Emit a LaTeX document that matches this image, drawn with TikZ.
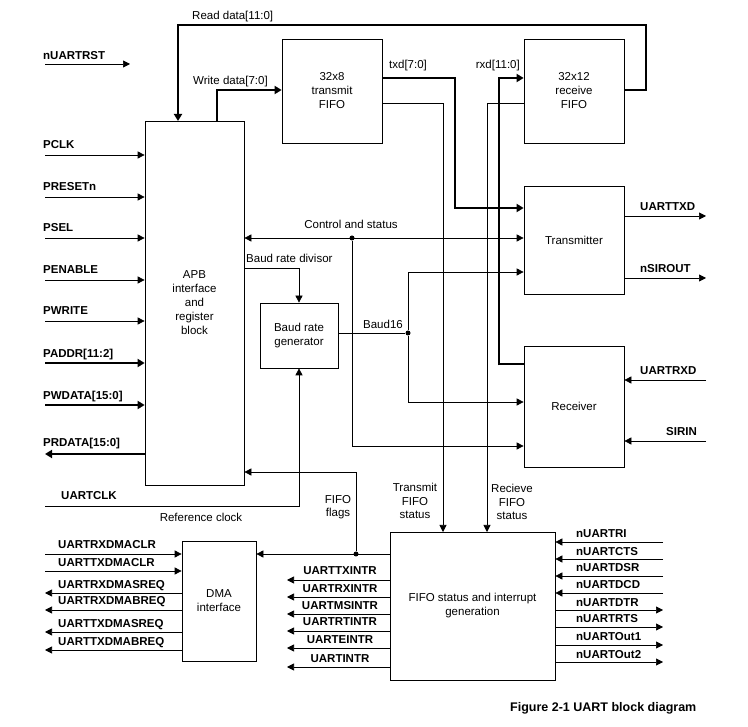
\documentclass[tikz,border=0pt]{standalone}
\usepackage{fontspec}
\setmainfont{Liberation Sans}
\usetikzlibrary{arrows.meta}
\begin{document}
\begin{tikzpicture}[x=1pt,y=-1pt,
  blk/.style={draw,line width=0.7pt,inner sep=0pt,align=center,font=\fontsize{11.5}{14}\selectfont},
  sig/.style={line width=0.7pt,-{Triangle[length=7pt,width=7pt]}},
  bus/.style={line width=2.8pt,-{Triangle[length=7pt,width=8pt]}},
  bsig/.style={line width=2.8pt},
  lbl/.style={font=\fontsize{11.5}{13.5}\selectfont,inner sep=1pt},
  pin/.style={font=\bfseries\fontsize{11.5}{13}\selectfont,inner sep=1pt},
  dot/.style={circle,fill,inner sep=0pt,minimum size=5pt}]
\useasboundingbox (0,0) rectangle (748,727);
% blocks
\node[blk,minimum width=99pt,minimum height=364pt] (apb) at (194.5,303) {APB\\interface\\and\\register\\block};
\node[blk,minimum width=100pt,minimum height=104pt] (tfifo) at (332,91) {32x8\\transmit\\FIFO};
\node[blk,minimum width=100pt,minimum height=104pt] (rfifo) at (574,91) {32x12\\receive\\FIFO};
\node[blk,minimum width=100pt,minimum height=108pt] (tx) at (574,240) {Transmitter};
\node[blk,minimum width=100pt,minimum height=121pt] (rx) at (574,406.5) {Receiver};
\node[blk,minimum width=78pt,minimum height=65pt] (baud) at (299,335.5) {Baud rate\\generator};
\node[blk,minimum width=74pt,minimum height=120pt] (dma) at (219,601) {DMA\\interface};
\node[blk,minimum width=165pt,minimum height=148pt] (fsi) at (472.5,606) {FIFO status and interrupt\\generation};
% buses
\draw[bus] (rfifo.east |- 0,90) -- (646,90) -- (646,25) -- (178,25) -- (178,121);
\node[lbl,anchor=base west] (rdl) at (191,20) {Read data[11:0]};
\draw[bus] (217,121) -- (217,90) -- (tfifo.west |- 0,90);
\node[lbl,anchor=base west] (wdl) at (192,85) {Write data[7:0]};
\draw[bus] (tfifo.east |- 0,78) -- (455,78) -- (455,208) -- (tx.west |- 0,208);
\node[lbl,anchor=base west] (txl) at (388,69) {txd[7:0]};
\draw[bsig] (rx.west |- 0,364) -- (499,364);
\draw[bus] (499,365.4) -- (499,78) -- (rfifo.west |- 0,78);
\node[lbl,anchor=base east] (rxl) at (521,69) {rxd[11:0]};
% FIFO status lines
\draw[sig] (tfifo.east |- 0,103) -- (443,103) -- (443,532);
\draw[sig] (rfifo.west |- 0,103) -- (487,103) -- (487,532);
\node[lbl,align=center] (tfs) at (415,501) {Transmit\\FIFO\\status};
\node[lbl,align=center] (rfs) at (512,502) {Recieve\\FIFO\\status};
% control and status
\node[dot] (cs) at (352,238) {};
\draw[sig,{Triangle[length=7pt,width=7pt]}-{Triangle[length=7pt,width=7pt]}] (apb.east |- 0,238) -- (tx.west |- 0,238);
\draw[sig] (cs) -- (352,446) -- (rx.west |- 0,446);
\node[lbl] (csl) at (351,224) {Control and status};
% baud rate divisor
\draw[sig] (apb.east |- 0,268) -- (299,268) -- (baud.north);
\node[lbl,anchor=base west] (brd) at (245,263) {Baud rate divisor};
% baud16
\node[dot] (b16) at (408,333) {};
\draw[line width=0.7pt] (baud.east |- 0,333) -- (b16);
\draw[sig] (b16) -- (408,272) -- (tx.west |- 0,272);
\draw[sig] (b16) -- (408,402) -- (rx.west |- 0,402);
\node[lbl] (b16l) at (383,324) {Baud16};
% reference clock
\coordinate (clkin) at (45,506);
\draw[sig] (clkin) -- (299,506) -- (baud.south);
\node[pin,anchor=base west] (clkl) at (60,500) {UARTCLK};
\node[lbl] (refl) at (201,517) {Reference clock};
% FIFO flags
\node[dot] (ff) at (356,554) {};
\draw[sig] (fsi.west |- 0,554) -- (dma.east |- 0,554);
\draw[sig] (ff) -- (356,472) -- (apb.east |- 0,472);
\node[lbl,align=center] (ffl) at (338,507) {FIFO\\flags};
% APB pins
\coordinate (rst) at (45,64);
\coordinate (rstend) at (130,64);
\draw[sig] (rst) -- (rstend);
\node[pin,anchor=base west] (rstl) at (42,60) {nUARTRST};
\foreach \n/\y in {PCLK/155,PRESETn/197,PSEL/238,PENABLE/280,PWRITE/321}{
  \coordinate (p\n) at (45,\y);
  \draw[sig] (p\n) -- (apb.west |- 0,\y);
  \node[pin,anchor=base west] (l\n) at (42,\y-6) {\n};
}
\coordinate (paddr) at (45,363);
\draw[bus] (paddr) -- (apb.west |- 0,363);
\node[pin,anchor=base west] (lpaddr) at (42,358) {PADDR[11:2]};
\coordinate (pwdata) at (45,405);
\draw[bus] (pwdata) -- (apb.west |- 0,405);
\node[pin,anchor=base west] (lpwdata) at (42,400) {PWDATA[15:0]};
\coordinate (prdata) at (45,454);
\draw[bus] (apb.west |- 0,454) -- (prdata);
\node[pin,anchor=base west] (lprdata) at (42,447) {PRDATA[15:0]};
% transmitter / receiver pins
\coordinate (utxd) at (706,216);
\draw[sig] (tx.east |- 0,216) -- (utxd);
\node[pin,anchor=base west] (lutxd) at (639,211) {UARTTXD};
\coordinate (nsir) at (706,278);
\draw[sig] (tx.east |- 0,278) -- (nsir);
\node[pin,anchor=base west] (lnsir) at (639,273) {nSIROUT};
\coordinate (urxd) at (706,380);
\draw[sig] (urxd) -- (rx.east |- 0,380);
\node[pin,anchor=base west] (lurxd) at (639,375) {UARTRXD};
\coordinate (sirin) at (706,441);
\draw[sig] (sirin) -- (rx.east |- 0,441);
\node[pin,anchor=base west] (lsirin) at (665,436) {SIRIN};
% DMA pins
\foreach \n/\y in {UARTRXDMACLR/554,UARTTXDMACLR/571}{
  \coordinate (d\n) at (45,\y);
  \draw[sig] (d\n) -- (dma.west |- 0,\y);
  \node[pin,anchor=base west] (l\n) at (57,\y-5) {\n};
}
\foreach \n/\y in {UARTRXDMASREQ/593,UARTRXDMABREQ/610,UARTTXDMASREQ/632,UARTTXDMABREQ/650}{
  \coordinate (d\n) at (45,\y);
  \draw[sig] (dma.west |- 0,\y) -- (d\n);
  \node[pin,anchor=base west] (l\n) at (57,\y-5) {\n};
}
% interrupt outputs
\foreach \n/\y in {UARTTXINTR/580,UARTRXINTR/597,UARTMSINTR/614,UARTRTINTR/631,UARTEINTR/648,UARTINTR/667}{
  \coordinate (i\n) at (287,\y);
  \draw[sig] (fsi.west |- 0,\y) -- (i\n);
  \node[pin,anchor=base] (l\n) at (340,\y-5) {\n};
}
% modem pins
\foreach \n/\y in {nUARTRI/542,nUARTCTS/559,nUARTDSR/576,nUARTDCD/593}{
  \coordinate (m\n) at (663,\y);
  \draw[sig] (m\n) -- (fsi.east |- 0,\y);
  \node[pin,anchor=base west] (l\n) at (575,\y-4) {\n};
}
\foreach \n/\y in {nUARTDTR/610,nUARTRTS/627,nUARTOut1/645,nUARTOut2/662}{
  \coordinate (m\n) at (663,\y);
  \draw[sig] (fsi.east |- 0,\y) -- (m\n);
  \node[pin,anchor=base west] (l\n) at (575,\y-4) {\n};
}
\node[pin,font=\bfseries\fontsize{12.5}{14}\selectfont,anchor=base west] (cap) at (509,711) {Figure 2-1 UART block diagram};
\end{tikzpicture}
\end{document}
